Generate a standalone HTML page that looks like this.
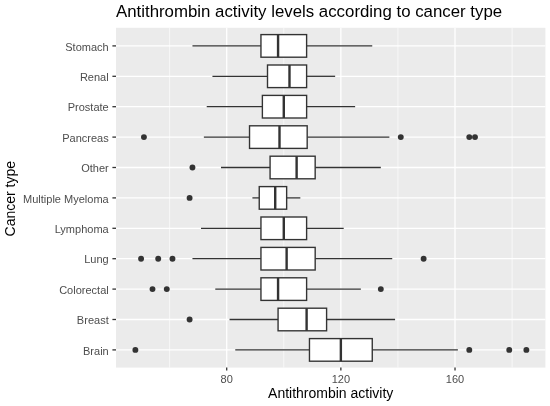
<!DOCTYPE html>
<html><head><meta charset="utf-8"><title>Antithrombin activity levels according to cancer type</title>
<style>
html,body{margin:0;padding:0;background:#fff;}
svg{display:block;}
text{font-family:"Liberation Sans",Arial,Helvetica,sans-serif;}
.tk{font-size:11.6px;fill:#4d4d4d;}
.ti{font-size:17.4px;fill:#000;}
.ax{font-size:14px;fill:#000;}
</style></head><body>
<svg width="550" height="406" viewBox="0 0 550 406">
<rect width="550" height="406" fill="#fff"/>
<rect x="116" y="27.8" width="429.4" height="339.8" fill="#ebebeb"/>
<line x1="169.62" x2="169.62" y1="27.8" y2="367.6" stroke="#fff" stroke-width="0.65"/>
<line x1="283.78" x2="283.78" y1="27.8" y2="367.6" stroke="#fff" stroke-width="0.65"/>
<line x1="397.94" x2="397.94" y1="27.8" y2="367.6" stroke="#fff" stroke-width="0.65"/>
<line x1="512.10" x2="512.10" y1="27.8" y2="367.6" stroke="#fff" stroke-width="0.65"/>
<line x1="226.70" x2="226.70" y1="27.8" y2="367.6" stroke="#fff" stroke-width="1.3"/>
<line x1="340.86" x2="340.86" y1="27.8" y2="367.6" stroke="#fff" stroke-width="1.3"/>
<line x1="455.02" x2="455.02" y1="27.8" y2="367.6" stroke="#fff" stroke-width="1.3"/>
<line x1="116" x2="545.4" y1="45.90" y2="45.90" stroke="#fff" stroke-width="1.3"/>
<line x1="116" x2="545.4" y1="76.30" y2="76.30" stroke="#fff" stroke-width="1.3"/>
<line x1="116" x2="545.4" y1="106.70" y2="106.70" stroke="#fff" stroke-width="1.3"/>
<line x1="116" x2="545.4" y1="137.10" y2="137.10" stroke="#fff" stroke-width="1.3"/>
<line x1="116" x2="545.4" y1="167.50" y2="167.50" stroke="#fff" stroke-width="1.3"/>
<line x1="116" x2="545.4" y1="197.90" y2="197.90" stroke="#fff" stroke-width="1.3"/>
<line x1="116" x2="545.4" y1="228.30" y2="228.30" stroke="#fff" stroke-width="1.3"/>
<line x1="116" x2="545.4" y1="258.70" y2="258.70" stroke="#fff" stroke-width="1.3"/>
<line x1="116" x2="545.4" y1="289.10" y2="289.10" stroke="#fff" stroke-width="1.3"/>
<line x1="116" x2="545.4" y1="319.50" y2="319.50" stroke="#fff" stroke-width="1.3"/>
<line x1="116" x2="545.4" y1="349.90" y2="349.90" stroke="#fff" stroke-width="1.3"/>
<line x1="192.45" x2="260.95" y1="45.90" y2="45.90" stroke="#333" stroke-width="1.3"/>
<line x1="306.61" x2="372.25" y1="45.90" y2="45.90" stroke="#333" stroke-width="1.3"/>
<rect x="260.95" y="34.60" width="45.66" height="22.6" fill="#fff" stroke="#333" stroke-width="1.38"/>
<line x1="278.07" x2="278.07" y1="34.60" y2="57.20" stroke="#333" stroke-width="2.4"/>
<line x1="112.4" x2="116" y1="45.90" y2="45.90" stroke="#333" stroke-width="1.3"/>
<text transform="translate(108.7,50.50) scale(0.951,1)" text-anchor="end" class="tk">Stomach</text>
<line x1="212.43" x2="267.51" y1="76.30" y2="76.30" stroke="#333" stroke-width="1.3"/>
<line x1="306.61" x2="335.15" y1="76.30" y2="76.30" stroke="#333" stroke-width="1.3"/>
<rect x="267.51" y="65.00" width="39.10" height="22.6" fill="#fff" stroke="#333" stroke-width="1.38"/>
<line x1="289.49" x2="289.49" y1="65.00" y2="87.60" stroke="#333" stroke-width="2.4"/>
<line x1="112.4" x2="116" y1="76.30" y2="76.30" stroke="#333" stroke-width="1.3"/>
<text transform="translate(108.7,80.90) scale(0.951,1)" text-anchor="end" class="tk">Renal</text>
<line x1="206.72" x2="262.38" y1="106.70" y2="106.70" stroke="#333" stroke-width="1.3"/>
<line x1="306.61" x2="355.13" y1="106.70" y2="106.70" stroke="#333" stroke-width="1.3"/>
<rect x="262.38" y="95.40" width="44.24" height="22.6" fill="#fff" stroke="#333" stroke-width="1.38"/>
<line x1="283.78" x2="283.78" y1="95.40" y2="118.00" stroke="#333" stroke-width="2.4"/>
<line x1="112.4" x2="116" y1="106.70" y2="106.70" stroke="#333" stroke-width="1.3"/>
<text transform="translate(108.7,111.30) scale(0.951,1)" text-anchor="end" class="tk">Prostate</text>
<circle cx="143.93" cy="137.10" r="2.95" fill="#333"/>
<circle cx="400.79" cy="137.10" r="2.95" fill="#333"/>
<circle cx="469.29" cy="137.10" r="2.95" fill="#333"/>
<circle cx="475.00" cy="137.10" r="2.95" fill="#333"/>
<line x1="203.87" x2="249.53" y1="137.10" y2="137.10" stroke="#333" stroke-width="1.3"/>
<line x1="307.18" x2="389.38" y1="137.10" y2="137.10" stroke="#333" stroke-width="1.3"/>
<rect x="249.53" y="125.80" width="57.65" height="22.6" fill="#fff" stroke="#333" stroke-width="1.38"/>
<line x1="279.50" x2="279.50" y1="125.80" y2="148.40" stroke="#333" stroke-width="2.4"/>
<line x1="112.4" x2="116" y1="137.10" y2="137.10" stroke="#333" stroke-width="1.3"/>
<text transform="translate(108.7,141.70) scale(0.951,1)" text-anchor="end" class="tk">Pancreas</text>
<circle cx="192.45" cy="167.50" r="2.95" fill="#333"/>
<line x1="220.99" x2="270.08" y1="167.50" y2="167.50" stroke="#333" stroke-width="1.3"/>
<line x1="315.17" x2="380.82" y1="167.50" y2="167.50" stroke="#333" stroke-width="1.3"/>
<rect x="270.08" y="156.20" width="45.09" height="22.6" fill="#fff" stroke="#333" stroke-width="1.38"/>
<line x1="296.62" x2="296.62" y1="156.20" y2="178.80" stroke="#333" stroke-width="2.4"/>
<line x1="112.4" x2="116" y1="167.50" y2="167.50" stroke="#333" stroke-width="1.3"/>
<text transform="translate(108.7,172.10) scale(0.951,1)" text-anchor="end" class="tk">Other</text>
<circle cx="189.60" cy="197.90" r="2.95" fill="#333"/>
<line x1="252.39" x2="259.24" y1="197.90" y2="197.90" stroke="#333" stroke-width="1.3"/>
<line x1="286.63" x2="300.33" y1="197.90" y2="197.90" stroke="#333" stroke-width="1.3"/>
<rect x="259.24" y="186.60" width="27.40" height="22.6" fill="#fff" stroke="#333" stroke-width="1.38"/>
<line x1="275.22" x2="275.22" y1="186.60" y2="209.20" stroke="#333" stroke-width="2.4"/>
<line x1="112.4" x2="116" y1="197.90" y2="197.90" stroke="#333" stroke-width="1.3"/>
<text transform="translate(108.7,202.50) scale(0.951,1)" text-anchor="end" class="tk">Multiple Myeloma</text>
<line x1="201.01" x2="260.95" y1="228.30" y2="228.30" stroke="#333" stroke-width="1.3"/>
<line x1="306.61" x2="343.71" y1="228.30" y2="228.30" stroke="#333" stroke-width="1.3"/>
<rect x="260.95" y="217.00" width="45.66" height="22.6" fill="#fff" stroke="#333" stroke-width="1.38"/>
<line x1="283.78" x2="283.78" y1="217.00" y2="239.60" stroke="#333" stroke-width="2.4"/>
<line x1="112.4" x2="116" y1="228.30" y2="228.30" stroke="#333" stroke-width="1.3"/>
<text transform="translate(108.7,232.90) scale(0.951,1)" text-anchor="end" class="tk">Lymphoma</text>
<circle cx="141.08" cy="258.70" r="2.95" fill="#333"/>
<circle cx="158.20" cy="258.70" r="2.95" fill="#333"/>
<circle cx="172.47" cy="258.70" r="2.95" fill="#333"/>
<circle cx="423.63" cy="258.70" r="2.95" fill="#333"/>
<line x1="192.45" x2="260.95" y1="258.70" y2="258.70" stroke="#333" stroke-width="1.3"/>
<line x1="315.17" x2="392.23" y1="258.70" y2="258.70" stroke="#333" stroke-width="1.3"/>
<rect x="260.95" y="247.40" width="54.23" height="22.6" fill="#fff" stroke="#333" stroke-width="1.38"/>
<line x1="286.63" x2="286.63" y1="247.40" y2="270.00" stroke="#333" stroke-width="2.4"/>
<line x1="112.4" x2="116" y1="258.70" y2="258.70" stroke="#333" stroke-width="1.3"/>
<text transform="translate(108.7,263.30) scale(0.951,1)" text-anchor="end" class="tk">Lung</text>
<circle cx="152.50" cy="289.10" r="2.95" fill="#333"/>
<circle cx="166.77" cy="289.10" r="2.95" fill="#333"/>
<circle cx="380.82" cy="289.10" r="2.95" fill="#333"/>
<line x1="215.28" x2="260.95" y1="289.10" y2="289.10" stroke="#333" stroke-width="1.3"/>
<line x1="306.61" x2="360.84" y1="289.10" y2="289.10" stroke="#333" stroke-width="1.3"/>
<rect x="260.95" y="277.80" width="45.66" height="22.6" fill="#fff" stroke="#333" stroke-width="1.38"/>
<line x1="278.07" x2="278.07" y1="277.80" y2="300.40" stroke="#333" stroke-width="2.4"/>
<line x1="112.4" x2="116" y1="289.10" y2="289.10" stroke="#333" stroke-width="1.3"/>
<text transform="translate(108.7,293.70) scale(0.951,1)" text-anchor="end" class="tk">Colorectal</text>
<circle cx="189.60" cy="319.50" r="2.95" fill="#333"/>
<line x1="229.55" x2="278.07" y1="319.50" y2="319.50" stroke="#333" stroke-width="1.3"/>
<line x1="326.59" x2="395.09" y1="319.50" y2="319.50" stroke="#333" stroke-width="1.3"/>
<rect x="278.07" y="308.20" width="48.52" height="22.6" fill="#fff" stroke="#333" stroke-width="1.38"/>
<line x1="306.61" x2="306.61" y1="308.20" y2="330.80" stroke="#333" stroke-width="2.4"/>
<line x1="112.4" x2="116" y1="319.50" y2="319.50" stroke="#333" stroke-width="1.3"/>
<text transform="translate(108.7,324.10) scale(0.951,1)" text-anchor="end" class="tk">Breast</text>
<circle cx="135.37" cy="349.90" r="2.95" fill="#333"/>
<circle cx="469.29" cy="349.90" r="2.95" fill="#333"/>
<circle cx="509.25" cy="349.90" r="2.95" fill="#333"/>
<circle cx="526.37" cy="349.90" r="2.95" fill="#333"/>
<line x1="235.26" x2="309.47" y1="349.90" y2="349.90" stroke="#333" stroke-width="1.3"/>
<line x1="372.25" x2="457.87" y1="349.90" y2="349.90" stroke="#333" stroke-width="1.3"/>
<rect x="309.47" y="338.60" width="62.79" height="22.6" fill="#fff" stroke="#333" stroke-width="1.38"/>
<line x1="340.86" x2="340.86" y1="338.60" y2="361.20" stroke="#333" stroke-width="2.4"/>
<line x1="112.4" x2="116" y1="349.90" y2="349.90" stroke="#333" stroke-width="1.3"/>
<text transform="translate(108.7,354.50) scale(0.951,1)" text-anchor="end" class="tk">Brain</text>
<line x1="226.70" x2="226.70" y1="367.6" y2="370.6" stroke="#333" stroke-width="1.3"/>
<text transform="translate(226.70,382.7) scale(0.951,1)" text-anchor="middle" class="tk">80</text>
<line x1="340.86" x2="340.86" y1="367.6" y2="370.6" stroke="#333" stroke-width="1.3"/>
<text transform="translate(340.86,382.7) scale(0.951,1)" text-anchor="middle" class="tk">120</text>
<line x1="455.02" x2="455.02" y1="367.6" y2="370.6" stroke="#333" stroke-width="1.3"/>
<text transform="translate(455.02,382.7) scale(0.951,1)" text-anchor="middle" class="tk">160</text>
<text transform="translate(116,17.0) scale(0.967,1)" class="ti">Antithrombin activity levels according to cancer type</text>
<text x="330.7" y="398.1" text-anchor="middle" class="ax">Antithrombin activity</text>
<text transform="translate(14.8,198.7) rotate(-90)" text-anchor="middle" class="ax">Cancer type</text>
</svg>
</body></html>
